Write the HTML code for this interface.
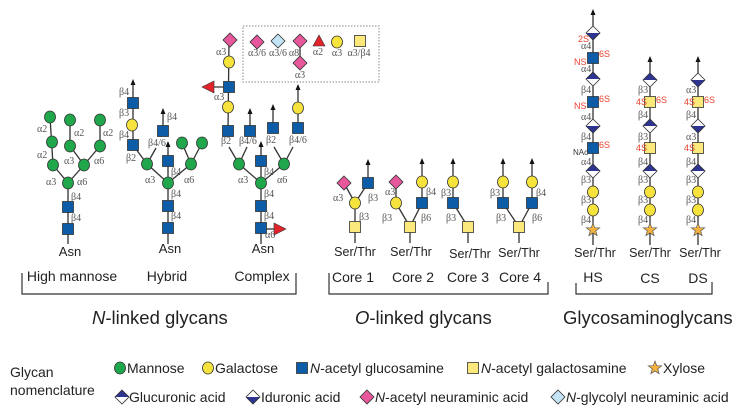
<!DOCTYPE html>
<html><head><meta charset="utf-8"><style>
html,body{margin:0;padding:0;background:#fff}
svg{display:block}
.l{font-family:"Liberation Serif",serif;font-size:10px;fill:#555}
.s{font-family:"Liberation Sans",sans-serif;font-size:9px;fill:#e8432e}
.t{font-family:"Liberation Sans",sans-serif;fill:#222}
line,path.ln{stroke:#333;stroke-width:1.3}
</style></head><body>
<svg width="750" height="416" viewBox="0 0 750 416" xmlns="http://www.w3.org/2000/svg">
<defs>
<ellipse id="G" rx="5.5" ry="6" fill="#20a64b" stroke="#333" stroke-width="0.8"/>
<ellipse id="Y" rx="5.5" ry="6" fill="#f6e43c" stroke="#333" stroke-width="0.8"/>
<rect id="B" x="-5.5" y="-5.5" width="11" height="11" fill="#0d5ca8" stroke="#333" stroke-width="0.8"/>
<rect id="YS" x="-5.5" y="-5.5" width="11" height="11" fill="#fbe97c" stroke="#333" stroke-width="0.8"/>
<path id="P" d="M0,-7L7,0L0,7L-7,0Z" fill="#e6579b" stroke="#333" stroke-width="0.8"/>
<path id="LB" d="M0,-7L7,0L0,7L-7,0Z" fill="#c3e4f4" stroke="#333" stroke-width="0.8"/>
<g id="GL"><path d="M-7,0L0,-7L7,0Z" fill="#2e3590"/><path d="M-7,0L0,7L7,0Z" fill="#fff"/><path d="M0,-7L7,0L0,7L-7,0Z" fill="none" stroke="#333" stroke-width="0.8"/></g>
<g id="ID"><path d="M-7,0L0,-7L7,0Z" fill="#fff"/><path d="M-7,0L0,7L7,0Z" fill="#2e3590"/><path d="M0,-7L7,0L0,7L-7,0Z" fill="none" stroke="#333" stroke-width="0.8"/></g>
<path id="ST" d="M0,-7L1.7,-2.3L6.7,-2.2L2.7,0.9L4.1,5.7L0,2.9L-4.1,5.7L-2.7,0.9L-6.7,-2.2L-1.7,-2.3Z" fill="#f3b33d" stroke="#555" stroke-width="0.7"/>
<path id="TR" d="M-6,-6L6,0L-6,6Z" fill="#e2232a" stroke="#333" stroke-width="0.6"/>
<path id="TL" d="M6,-6L-6,0L6,6Z" fill="#e2232a" stroke="#333" stroke-width="0.6"/>
<path id="TU" d="M0,-6L6,5L-6,5Z" fill="#e2232a" stroke="#333" stroke-width="0.6"/>
<path id="AH" d="M0,-4L2.5,2L-2.5,2Z" fill="#111"/>
</defs>

<!-- ===== High mannose ===== -->
<g>
<line x1="68" y1="183" x2="68" y2="244"/>
<line x1="68" y1="183" x2="53" y2="165"/><line x1="68" y1="183" x2="84" y2="165"/>
<line x1="53" y1="165" x2="50" y2="117"/>
<line x1="84" y1="165" x2="70" y2="146"/><line x1="70" y1="146" x2="70" y2="120"/>
<line x1="84" y1="165" x2="100" y2="146"/><line x1="100" y1="146" x2="100" y2="120"/>
<use href="#G" x="50" y="117"/><use href="#G" x="70" y="120"/><use href="#G" x="100" y="120"/>
<use href="#G" x="52" y="142"/><use href="#G" x="70" y="146"/><use href="#G" x="100" y="146"/>
<use href="#G" x="53" y="165"/><use href="#G" x="84" y="165"/><use href="#G" x="68" y="183"/>
<use href="#B" x="68" y="207"/><use href="#B" x="68" y="229"/>
<text class="l" x="37" y="132">α2</text><text class="l" x="37" y="158">α2</text>
<text class="l" x="74" y="136">α2</text><text class="l" x="103" y="136">α2</text>
<text class="l" x="64" y="164">α3</text><text class="l" x="94" y="164">α6</text>
<text class="l" x="46" y="185">α3</text><text class="l" x="77" y="185">α6</text>
<text class="l" x="71" y="200">β4</text><text class="l" x="71" y="221">β4</text>
<text class="t" x="70" y="256" font-size="13" text-anchor="middle">Asn</text>
</g>

<!-- ===== Hybrid ===== -->
<g>
<line x1="168" y1="146" x2="168" y2="244"/>
<use href="#AH" x="168" y="145"/>
<line x1="168" y1="183" x2="147" y2="164"/><line x1="168" y1="183" x2="191" y2="164"/>
<line x1="191" y1="164" x2="182" y2="143"/><line x1="191" y1="164" x2="202" y2="143"/>
<line x1="147" y1="164" x2="133" y2="145"/><line x1="147" y1="164" x2="156" y2="148"/>
<line x1="133" y1="145" x2="133" y2="84"/><use href="#AH" x="133" y="83"/>
<line x1="163" y1="131" x2="163" y2="113"/><use href="#AH" x="163" y="112"/>
<use href="#B" x="133" y="103"/><use href="#Y" x="132" y="125"/><use href="#B" x="133" y="145"/>
<use href="#B" x="163" y="131"/>
<use href="#G" x="147" y="164"/><use href="#G" x="191" y="164"/><use href="#G" x="182" y="143"/><use href="#G" x="202" y="143"/>
<use href="#B" x="168" y="161"/><use href="#G" x="168" y="183"/>
<use href="#B" x="168" y="206"/><use href="#B" x="168" y="228"/>
<text class="l" x="119" y="95">β4</text><text class="l" x="119" y="116">β3</text><text class="l" x="119" y="138">β4</text>
<text class="l" x="126" y="161">β2</text><text class="l" x="148" y="146">β4/6</text><text class="l" x="167" y="120">β4</text>
<text class="l" x="171" y="175">β4</text>
<text class="l" x="145" y="183">α3</text><text class="l" x="184" y="183">α6</text>
<text class="l" x="171" y="197">β4</text><text class="l" x="171" y="219">β4</text>
<text class="t" x="170" y="253" font-size="13" text-anchor="middle">Asn</text>
</g>

<!-- ===== Complex ===== -->
<g>
<line x1="261" y1="146" x2="261" y2="244"/><use href="#AH" x="261" y="145"/>
<line x1="261" y1="229" x2="276" y2="229"/><use href="#TR" x="280" y="229"/>
<line x1="261" y1="183" x2="239" y2="164"/><line x1="261" y1="183" x2="284" y2="164"/>
<line x1="239" y1="164" x2="229" y2="147"/><line x1="239" y1="164" x2="247" y2="147"/>
<line x1="284" y1="164" x2="274" y2="147"/><line x1="284" y1="164" x2="293" y2="147"/>
<line x1="228" y1="131" x2="229" y2="40"/>
<line x1="229" y1="87" x2="212" y2="87"/><use href="#TL" x="208" y="87"/>
<line x1="250" y1="131" x2="250" y2="113"/><use href="#AH" x="250" y="112"/>
<line x1="273" y1="128" x2="273" y2="109"/><use href="#AH" x="273" y="108"/>
<line x1="298" y1="128" x2="298" y2="89"/><use href="#AH" x="298" y="88"/>
<use href="#P" x="230" y="40"/><use href="#Y" x="229" y="62"/><use href="#B" x="229" y="87"/><use href="#Y" x="228" y="107"/><use href="#B" x="228" y="131"/>
<use href="#B" x="250" y="131"/><use href="#B" x="273" y="128"/><use href="#B" x="298" y="128"/><use href="#Y" x="298" y="108"/>
<use href="#G" x="239" y="164"/><use href="#G" x="284" y="164"/>
<use href="#B" x="261" y="161"/><use href="#G" x="261" y="183"/>
<use href="#B" x="261" y="206"/><use href="#B" x="261" y="228"/>
<text class="l" x="216" y="55">α3</text><text class="l" x="214" y="100">α3</text>
<text class="l" x="221" y="144">β2</text><text class="l" x="239" y="144">β4/6</text>
<text class="l" x="266" y="143">β2</text><text class="l" x="289" y="143">β4/6</text>
<text class="l" x="264" y="175">β4</text>
<text class="l" x="238" y="183">α3</text><text class="l" x="277" y="183">α6</text>
<text class="l" x="264" y="197">β4</text><text class="l" x="264" y="219">β4</text>
<text class="l" x="265" y="238">α6</text>
<text class="t" x="263" y="253" font-size="13" text-anchor="middle">Asn</text>
<!-- dotted box -->
<rect x="243" y="26" width="136" height="56" fill="none" stroke="#888" stroke-width="1" stroke-dasharray="1.5,1.5"/>
<line x1="300" y1="41" x2="300" y2="63"/>
<use href="#P" x="257" y="42"/><use href="#LB" x="278" y="41"/><use href="#P" x="300" y="41"/><use href="#P" x="300" y="63"/>
<use href="#TU" x="319" y="41"/><use href="#Y" x="337" y="42"/><use href="#YS" x="360" y="41"/>
<text class="l" x="257" y="56" text-anchor="middle">α3/6</text><text class="l" x="278" y="56" text-anchor="middle">α3/6</text>
<text class="l" x="294" y="56" text-anchor="middle">α8</text><text class="l" x="300" y="78" text-anchor="middle">α3</text>
<text class="l" x="318" y="55" text-anchor="middle">α2</text><text class="l" x="337" y="56" text-anchor="middle">α3</text>
<text class="l" x="359" y="56" text-anchor="middle">α3/β4</text>
</g>

<!-- ===== O-linked ===== -->
<g>
<line x1="355" y1="227" x2="355" y2="243"/><line x1="355" y1="227" x2="355" y2="203"/>
<line x1="355" y1="203" x2="344" y2="183"/><line x1="355" y1="203" x2="368" y2="183"/>
<line x1="368" y1="183" x2="368" y2="164"/><use href="#AH" x="368" y="163"/>
<use href="#P" x="344" y="183"/><use href="#B" x="368" y="183"/><use href="#Y" x="355" y="203"/><use href="#YS" x="355" y="227"/>
<text class="l" x="333" y="201">α3</text><text class="l" x="368" y="201">β3</text><text class="l" x="359" y="220">β3</text>
<line x1="410" y1="227" x2="410" y2="243"/>
<line x1="410" y1="227" x2="396" y2="203"/><line x1="396" y1="203" x2="396" y2="182"/>
<line x1="410" y1="227" x2="422" y2="203"/><line x1="422" y1="203" x2="422" y2="163"/><use href="#AH" x="422" y="162"/>
<use href="#P" x="396" y="182"/><use href="#Y" x="396" y="203"/><use href="#B" x="422" y="203"/><use href="#Y" x="422" y="182"/><use href="#YS" x="410" y="227"/>
<text class="l" x="385" y="195">α3</text><text class="l" x="382" y="221">β3</text><text class="l" x="421" y="221">β6</text><text class="l" x="426" y="195">β4</text>
<line x1="468" y1="227" x2="468" y2="243"/>
<line x1="468" y1="227" x2="453" y2="203"/><line x1="453" y1="203" x2="453" y2="163"/><use href="#AH" x="453" y="162"/>
<use href="#Y" x="453" y="182"/><use href="#B" x="453" y="203"/><use href="#YS" x="468" y="227"/>
<text class="l" x="441" y="196">β3</text><text class="l" x="446" y="221">β3</text>
<line x1="519" y1="227" x2="519" y2="243"/>
<line x1="519" y1="227" x2="503" y2="203"/><line x1="503" y1="203" x2="503" y2="163"/><use href="#AH" x="503" y="162"/>
<line x1="519" y1="227" x2="532" y2="203"/><line x1="532" y1="203" x2="532" y2="163"/><use href="#AH" x="532" y="162"/>
<use href="#Y" x="503" y="182"/><use href="#B" x="503" y="203"/><use href="#Y" x="532" y="182"/><use href="#B" x="532" y="203"/><use href="#YS" x="519" y="227"/>
<text class="l" x="490" y="196">β3</text><text class="l" x="536" y="196">β4</text><text class="l" x="496" y="221">β3</text><text class="l" x="532" y="221">β6</text>
<g class="t" font-size="12.5" text-anchor="middle">
<text x="355" y="256">Ser/Thr</text><text x="411" y="256">Ser/Thr</text><text x="470" y="258">Ser/Thr</text><text x="519" y="257">Ser/Thr</text>
</g>
</g>

<!-- ===== GAGs ===== -->
<g>
<line x1="593" y1="14" x2="593" y2="245"/><use href="#AH" x="593" y="13"/>
<line x1="650" y1="61" x2="650" y2="245"/><use href="#AH" x="650" y="60"/>
<line x1="698" y1="61" x2="698" y2="245"/><use href="#AH" x="698" y="60"/>
<use href="#ID" x="593" y="33"/><use href="#B" x="593" y="58"/><use href="#GL" x="593" y="79"/><use href="#B" x="593" y="102"/>
<use href="#ID" x="593" y="126"/><use href="#B" x="593" y="148"/><use href="#GL" x="593" y="171"/>
<use href="#Y" x="593" y="192"/><use href="#Y" x="593" y="210"/><use href="#ST" x="593" y="230"/>
<text class="s" x="578" y="42">2S</text><text class="s" x="574" y="65">NS</text><text class="s" x="599" y="57">6S</text>
<text class="s" x="574" y="109">NS</text><text class="s" x="599" y="102">6S</text>
<text class="s" x="599" y="148" >6S</text><text x="573" y="155" font-family="Liberation Sans,sans-serif" font-size="8" fill="#333">NAc</text>
<text class="l" x="581" y="49">α4</text><text class="l" x="581" y="72">α4</text><text class="l" x="581" y="93">β4</text>
<text class="l" x="581" y="120">α4</text><text class="l" x="581" y="140">β4</text><text class="l" x="581" y="165">α4</text>
<text class="l" x="581" y="183">β3</text><text class="l" x="581" y="203">β3</text><text class="l" x="581" y="223">β4</text>
<use href="#GL" x="650" y="80"/><use href="#YS" x="650" y="102"/><use href="#GL" x="650" y="126"/><use href="#YS" x="650" y="148"/>
<use href="#GL" x="650" y="171"/><use href="#Y" x="650" y="192"/><use href="#Y" x="650" y="210"/><use href="#ST" x="650" y="230"/>
<text class="s" x="636" y="105">4S</text><text class="s" x="656" y="103">6S</text><text class="s" x="636" y="151">4S</text>
<text class="l" x="638" y="93">β3</text><text class="l" x="638" y="118">β4</text><text class="l" x="638" y="140">β3</text><text class="l" x="638" y="165">β4</text>
<text class="l" x="638" y="183">β3</text><text class="l" x="638" y="203">β3</text><text class="l" x="638" y="223">β4</text>
<use href="#ID" x="698" y="80"/><use href="#YS" x="698" y="102"/><use href="#ID" x="698" y="126"/><use href="#YS" x="698" y="148"/>
<use href="#GL" x="698" y="171"/><use href="#Y" x="698" y="192"/><use href="#Y" x="698" y="210"/><use href="#ST" x="698" y="230"/>
<text class="s" x="684" y="105">4S</text><text class="s" x="704" y="103">6S</text><text class="s" x="684" y="151">4S</text>
<text class="l" x="686" y="93">α3</text><text class="l" x="686" y="118">β4</text><text class="l" x="686" y="140">α3</text><text class="l" x="686" y="165">β4</text>
<text class="l" x="686" y="183">β3</text><text class="l" x="686" y="203">β3</text><text class="l" x="686" y="223">β4</text>
<g class="t" font-size="12.5" text-anchor="middle">
<text x="595" y="257">Ser/Thr</text><text x="650" y="257">Ser/Thr</text><text x="700" y="257">Ser/Thr</text>
</g>
</g>

<!-- Category labels & brackets -->
<g class="t" font-size="14" text-anchor="middle">
<text x="72" y="281">High mannose</text><text x="167" y="281">Hybrid</text><text x="262" y="281">Complex</text>
<text x="353" y="282">Core 1</text><text x="413" y="282">Core 2</text><text x="468" y="282">Core 3</text><text x="520" y="282">Core 4</text>
<text x="593" y="282">HS</text><text x="650" y="283">CS</text><text x="698" y="283">DS</text>
</g>
<path d="M22,273V294H296V273" fill="none" stroke="#333" stroke-width="1.2"/>
<path d="M329,273V294H548V282" fill="none" stroke="#333" stroke-width="1.2"/>
<path d="M576,283V294H712V282" fill="none" stroke="#333" stroke-width="1.2"/>
<g class="t" font-size="18.5">
<text x="92" y="324"><tspan font-style="italic">N</tspan>-linked glycans</text>
<text x="355" y="324"><tspan font-style="italic">O</tspan>-linked glycans</text>
<text x="563" y="324">Glycosaminoglycans</text>
</g>

<!-- Legend -->
<g class="t" font-size="14">
<text x="10" y="377">Glycan</text><text x="10" y="395">nomenclature</text>
<use href="#G" x="120" y="368"/><text x="127" y="373">Mannose</text>
<use href="#Y" x="208" y="368"/><text x="215" y="373">Galactose</text>
<use href="#B" x="302" y="368"/><text x="310" y="373"><tspan font-style="italic">N</tspan>-acetyl glucosamine</text>
<use href="#YS" x="473" y="368"/><text x="481" y="373"><tspan font-style="italic">N</tspan>-acetyl galactosamine</text>
<use href="#ST" x="655" y="368"/><text x="663" y="373">Xylose</text>
<use href="#GL" x="122" y="397"/><text x="129" y="402">Glucuronic acid</text>
<use href="#ID" x="253" y="397"/><text x="261" y="402">Iduronic acid</text>
<use href="#P" x="367" y="397"/><text x="375" y="402"><tspan font-style="italic">N</tspan>-acetyl neuraminic acid</text>
<use href="#LB" x="558" y="397"/><text x="566" y="402"><tspan font-style="italic">N</tspan>-glycolyl neuraminic acid</text>
</g>
</svg>
</body></html>
